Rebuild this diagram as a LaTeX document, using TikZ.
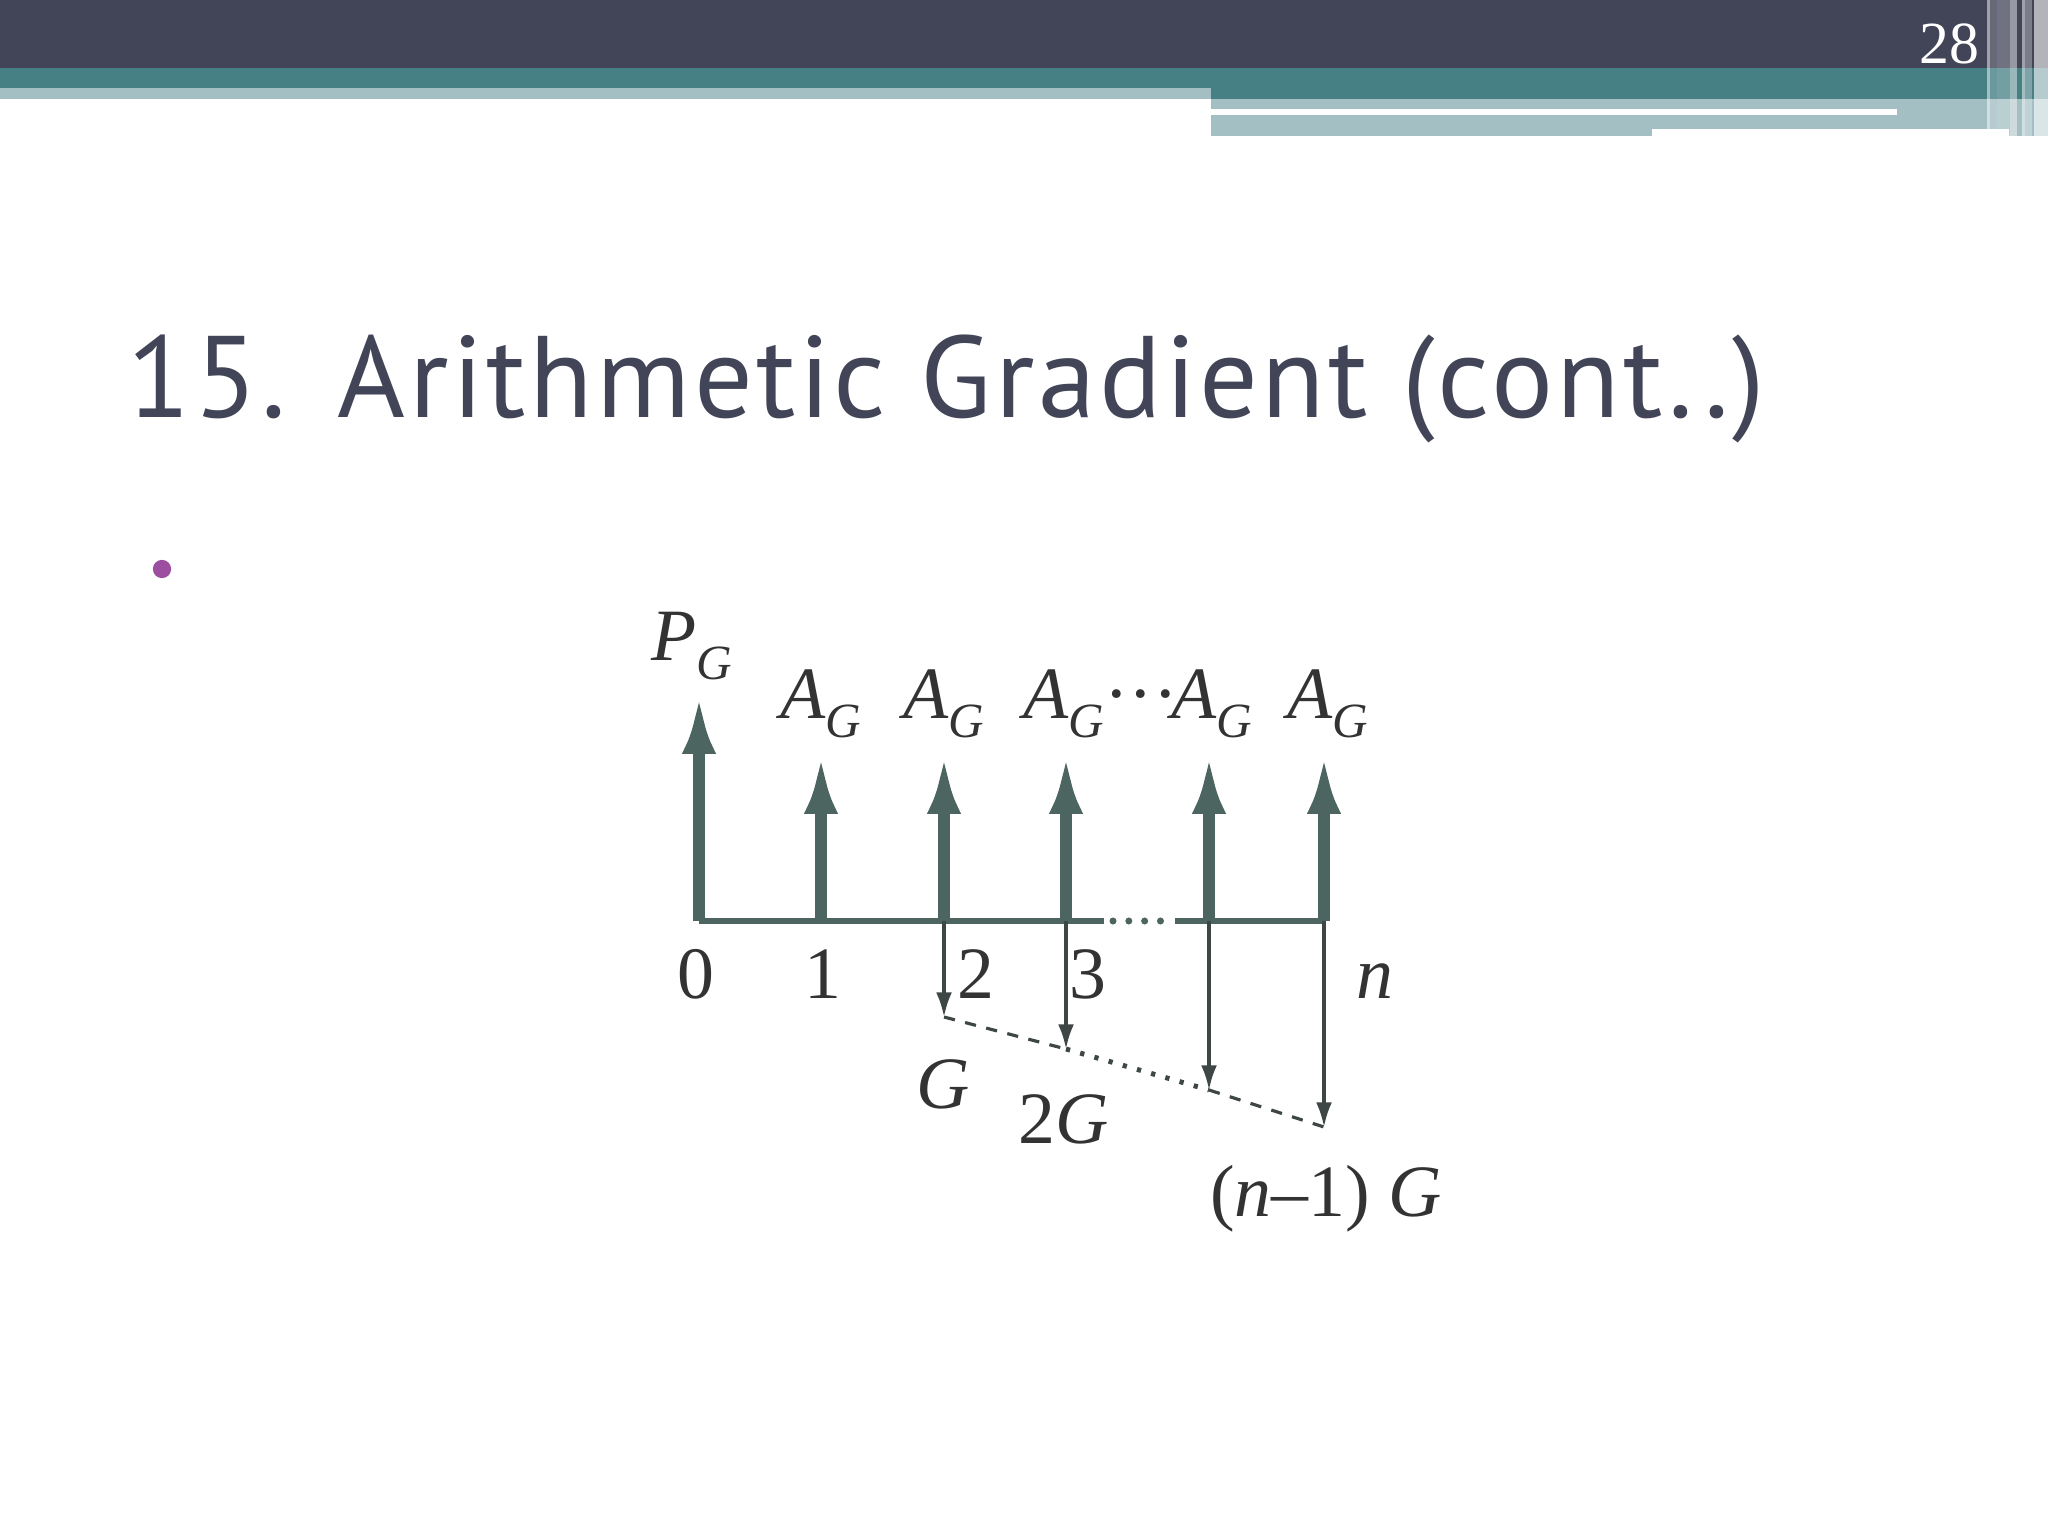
\documentclass[tikz,border=0pt]{standalone}
\usepackage{fontspec}
\setmainfont{Liberation Serif}
\newfontfamily\titlefont[LetterSpace=3]{PT Sans}
\usetikzlibrary{arrows.meta, positioning}
\definecolor{headdark}{HTML}{424457}
\definecolor{headteal}{HTML}{467F84}
\definecolor{headlight}{HTML}{A4BFC3}
\definecolor{shaft}{HTML}{4C6561}
\definecolor{thinline}{HTML}{3E4646}
\definecolor{bulletpurple}{HTML}{9C4EA0}
\newcommand{\lowsub}[1]{\raisebox{-5.5pt}{\fontsize{14}{14}\selectfont\textit{#1}}}

\begin{document}
\begin{tikzpicture}[
    x=0.1mm, y=0.1mm,
    upArr/.style={-{Latex[length=17pt,width=9.5pt]}, line width=3.6pt, draw=shaft},
    downArr/.style={-{Latex[length=7pt,width=4.5pt]}, line width=0.9pt, draw=thinline},
    tie/.style={line width=0.9pt, draw=thinline},
    lbl/.style={font=\fontsize{21}{25}\selectfont, text=black!80, inner sep=0pt},
    stripe/.style={fill=white, draw=none}
]
    \useasboundingbox (0,0) rectangle (2048,1536);

    % --- Header bands ---
    \fill[headdark] (0,1536) rectangle (2048,1468);
    \fill[headteal] (0,1468) rectangle (2048,1437);
    \fill[headlight] (0,1448) rectangle (1211,1437);
    \fill[headlight] (1211,1437) rectangle (2048,1400);
    \fill[white] (1211,1427) rectangle (1897,1421);
    \fill[white] (1652,1407) rectangle (2009,1400);
    \fill[stripe, opacity=0.5] (1987,1400) rectangle (1990,1536);
    \fill[stripe, opacity=0.2] (1990,1400) rectangle (1997,1536);
    \fill[stripe, opacity=0.25] (1997,1400) rectangle (2010,1536);
    \fill[stripe, opacity=0.45] (2010,1400) rectangle (2017,1536);
    \fill[stripe, opacity=0.5] (2022,1400) rectangle (2025,1536);
    \fill[stripe, opacity=0.3] (2025,1400) rectangle (2032,1536);
    \fill[stripe, opacity=0.6] (2034,1400) rectangle (2048,1536);
    \node[anchor=base east, text=white, font=\fontsize{17}{20}\selectfont, inner sep=0pt] (page) at (1980,1472) {28};

    % --- Title and bullet ---
    \node[anchor=base west, text=headdark, font=\titlefont\fontsize{33}{38}\selectfont, inner sep=0pt] (title) at (127,1118) {15.\hspace{0.45em}Arithmetic Gradient (cont..)};
    \node[circle, fill=bulletpurple, minimum size=5.2pt, inner sep=0pt] (bullet) at (162,967) {};

    % --- Time axis ---
    \coordinate (t0) at (699,615);
    \coordinate (t1) at (821,615);
    \coordinate (t2) at (944,615);
    \coordinate (t3) at (1066,615);
    \coordinate (t4) at (1209,615);
    \coordinate (tn) at (1324,615);
    \coordinate (gapL) at (1104,615);
    \coordinate (gapR) at (1175,615);
    \draw[shaft, line width=1.6pt] (t0) -- (gapL);
    \draw[shaft, line width=1.6pt] (gapR) -- (tn);
    \draw[shaft, line width=2pt, line cap=round, dash pattern=on 0pt off 4.5pt] (1113,615) -- (gapR);

    % --- Receipts (up) ---
    \coordinate (u0) at (699,842);
    \coordinate (u1) at (821,782);
    \coordinate (u2) at (944,782);
    \coordinate (u3) at (1066,782);
    \coordinate (u4) at (1209,782);
    \coordinate (un) at (1324,782);
    \draw[upArr] (t0) -- (u0);
    \draw[upArr] (t1) -- (u1);
    \draw[upArr] (t2) -- (u2);
    \draw[upArr] (t3) -- (u3);
    \draw[upArr] (t4) -- (u4);
    \draw[upArr] (tn) -- (un);

    % --- Gradient payments (down) ---
    \coordinate (d2) at (944,519);
    \coordinate (d3) at (1066,487);
    \coordinate (d4) at (1209,446);
    \coordinate (dn) at (1324,409);
    \draw[downArr] (t2) -- (d2);
    \draw[downArr] (t3) -- (d3);
    \draw[downArr] (t4) -- (d4);
    \draw[downArr] (tn) -- (dn);
    \draw[tie, dash pattern=on 3.2pt off 3pt] (d2) -- (d3);
    \draw[tie, line width=1.4pt, dash pattern=on 1.2pt off 3pt] (d3) -- (d4);
    \draw[tie, dash pattern=on 3.2pt off 3pt] (d4) -- (dn);

    % --- Labels ---
    \node[lbl, anchor=base] (pg) at (692,876) {\textit{P}\lowsub{G}};
    \node[lbl, anchor=base] (ag1) at (821,818) {\textit{A}\lowsub{G}};
    \node[lbl, anchor=base] (ag2) at (944,818) {\textit{A}\lowsub{G}};
    \node[lbl, anchor=base] (ag3) at (1064,818) {\textit{A}\lowsub{G}};
    \node[lbl] (agdots) at (1141,832) {\textperiodcentered\textperiodcentered\textperiodcentered};
    \node[lbl, anchor=base] (ag4) at (1212,818) {\textit{A}\lowsub{G}};
    \node[lbl, anchor=base] (agn) at (1328,818) {\textit{A}\lowsub{G}};

    \node[lbl, anchor=base] (n0) at (696,538) {0};
    \node[lbl, anchor=base] (n1) at (823,538) {1};
    \node[lbl, anchor=base] (n2) at (976,538) {2};
    \node[lbl, anchor=base] (n3) at (1088,538) {3};
    \node[lbl, anchor=base] (nn) at (1375,538) {\textit{n}};

    \node[lbl] (g1) at (943,452) {\textit{G}};
    \node[lbl] (g2) at (1064,417) {2\textit{G}};
    \node[lbl] (gn) at (1326,337) {(\textit{n}–1) \textit{G}};
\end{tikzpicture}
\end{document}
